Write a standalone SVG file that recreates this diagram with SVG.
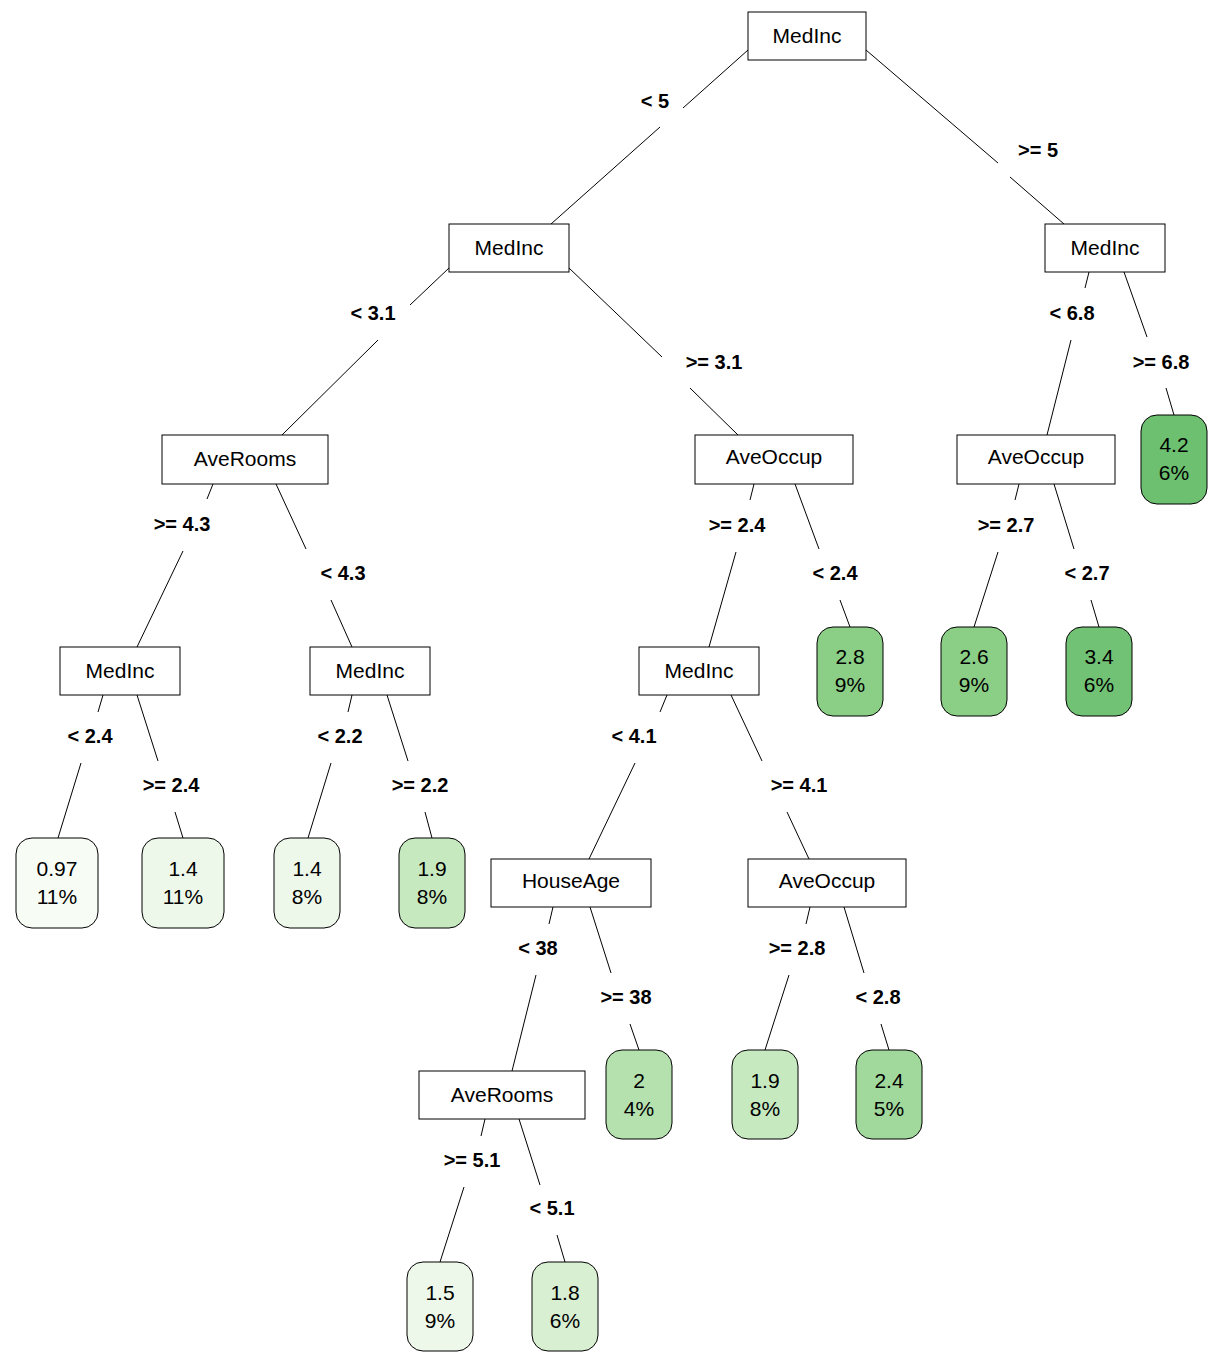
<svg xmlns="http://www.w3.org/2000/svg" width="1218" height="1358" viewBox="0 0 1218 1358">
<style>
.b{fill:#fff;stroke:#000;stroke-width:1}
.l{stroke:#000;stroke-width:1}
text{font-family:"Liberation Sans",Arial,sans-serif;font-size:21px;text-anchor:middle;dominant-baseline:middle}
.e{font-weight:bold;font-size:20px}
</style>
<rect width="1218" height="1358" fill="#fff"/>
<g id="connectors" fill="none" class="l">
<path class="l" d="M748,50L683,108M660,127L551,224M866,50L998,163M1010,177L1064,224M449,268L410,305M378,340L282,435M569,268L662,357M690,388L738,435M1089,272L1085,288M1071,340L1047,435M1124,272L1147,337M1166,388L1174,415M213,484L207,499M183,551L137,647M276,484L306,549M331,600L352,647M754,484L750,500M736,552L709,647M795,484L819,549M840,600L850,627M1019,484L1015,500M998,552L974,627M1054,484L1074,549M1091,600L1099,627M103,695L98,712M81,763L58,838M137,695L158,761M175,812L183,838M352,695L348,712M331,763L308,838M387,695L408,761M425,812L432,838M667,695L660,712M635,763L589,859M731,695L762,761M787,812L809,859M553,907L549,924M536,975L512,1071M590,907L611,973M630,1024L639,1050M810,907L806,924M789,975L765,1050M844,907L864,973M881,1024L889,1050M485,1119L481,1136M464,1187L440,1262M519,1119L540,1185M557,1235L565,1262"/>
<g fill="#000" stroke="none">
<text class="e" x="655" y="103">&lt; 5</text>
<text class="e" x="1038" y="152">&gt;= 5</text>
<text class="e" x="373" y="315">&lt; 3.1</text>
<text class="e" x="714" y="364">&gt;= 3.1</text>
<text class="e" x="1072" y="315">&lt; 6.8</text>
<text class="e" x="1161" y="364">&gt;= 6.8</text>
<text class="e" x="182" y="526">&gt;= 4.3</text>
<text class="e" x="343" y="575">&lt; 4.3</text>
<text class="e" x="737" y="527">&gt;= 2.4</text>
<text class="e" x="835" y="575">&lt; 2.4</text>
<text class="e" x="1006" y="527">&gt;= 2.7</text>
<text class="e" x="1087" y="575">&lt; 2.7</text>
<text class="e" x="90" y="738">&lt; 2.4</text>
<text class="e" x="171" y="787">&gt;= 2.4</text>
<text class="e" x="340" y="738">&lt; 2.2</text>
<text class="e" x="420" y="787">&gt;= 2.2</text>
<text class="e" x="634" y="738">&lt; 4.1</text>
<text class="e" x="799" y="787">&gt;= 4.1</text>
<text class="e" x="538" y="950">&lt; 38</text>
<text class="e" x="626" y="999">&gt;= 38</text>
<text class="e" x="797" y="950">&gt;= 2.8</text>
<text class="e" x="878" y="999">&lt; 2.8</text>
<text class="e" x="472" y="1162">&gt;= 5.1</text>
<text class="e" x="552" y="1210">&lt; 5.1</text>
</g>
</g>
<g id="n1"><rect class="b" x="748" y="12" width="118" height="48"/><text x="807" y="37">MedInc</text></g>
<g id="n2"><rect class="b" x="449" y="224" width="120" height="48"/><text x="509" y="249">MedInc</text></g>
<g id="n3"><rect class="b" x="1045" y="224" width="120" height="48"/><text x="1105" y="249">MedInc</text></g>
<g id="n4"><rect class="b" x="162" y="435" width="166" height="49"/><text x="245" y="460">AveRooms</text></g>
<g id="n5"><rect class="b" x="695" y="435" width="158" height="49"/><text x="774" y="458">AveOccup</text></g>
<g id="n6"><rect class="b" x="957" y="435" width="158" height="49"/><text x="1036" y="458">AveOccup</text></g>
<g id="n7"><rect class="b" x="60" y="647" width="120" height="48"/><text x="120" y="672">MedInc</text></g>
<g id="n8"><rect class="b" x="310" y="647" width="120" height="48"/><text x="370" y="672">MedInc</text></g>
<g id="n9"><rect class="b" x="639" y="647" width="120" height="48"/><text x="699" y="672">MedInc</text></g>
<g id="n10"><rect class="b" x="491" y="859" width="160" height="48"/><text x="571" y="882">HouseAge</text></g>
<g id="n11"><rect class="b" x="748" y="859" width="158" height="48"/><text x="827" y="882">AveOccup</text></g>
<g id="n12"><rect class="b" x="419" y="1071" width="166" height="48"/><text x="502" y="1096">AveRooms</text></g>
<g id="leaf42"><rect class="b" x="1141" y="415" width="66" height="89" rx="16" style="fill:#6cc070"/><text x="1174" y="446">4.2</text><text x="1174" y="474">6%</text></g>
<g id="leaf28"><rect class="b" x="817" y="627" width="66" height="89" rx="16" style="fill:#8bce86"/><text x="850" y="658">2.8</text><text x="850" y="686">9%</text></g>
<g id="leaf26"><rect class="b" x="941" y="627" width="66" height="89" rx="16" style="fill:#8bce86"/><text x="974" y="658">2.6</text><text x="974" y="686">9%</text></g>
<g id="leaf34"><rect class="b" x="1066" y="627" width="66" height="89" rx="16" style="fill:#72c275"/><text x="1099" y="658">3.4</text><text x="1099" y="686">6%</text></g>
<g id="leaf097"><rect class="b" x="16" y="838" width="82" height="90" rx="16" style="fill:#f7fcf5"/><text x="57" y="870">0.97</text><text x="57" y="898">11%</text></g>
<g id="leaf14a"><rect class="b" x="142" y="838" width="82" height="90" rx="16" style="fill:#edf8ea"/><text x="183" y="870">1.4</text><text x="183" y="898">11%</text></g>
<g id="leaf14b"><rect class="b" x="274" y="838" width="66" height="90" rx="16" style="fill:#edf8ea"/><text x="307" y="870">1.4</text><text x="307" y="898">8%</text></g>
<g id="leaf19a"><rect class="b" x="399" y="838" width="66" height="90" rx="16" style="fill:#c7e9c0"/><text x="432" y="870">1.9</text><text x="432" y="898">8%</text></g>
<g id="leaf2"><rect class="b" x="606" y="1050" width="66" height="89" rx="16" style="fill:#b5e1ae"/><text x="639" y="1082">2</text><text x="639" y="1110">4%</text></g>
<g id="leaf19b"><rect class="b" x="732" y="1050" width="66" height="89" rx="16" style="fill:#c7e9c0"/><text x="765" y="1082">1.9</text><text x="765" y="1110">8%</text></g>
<g id="leaf24"><rect class="b" x="856" y="1050" width="66" height="89" rx="16" style="fill:#a0d99b"/><text x="889" y="1082">2.4</text><text x="889" y="1110">5%</text></g>
<g id="leaf15"><rect class="b" x="407" y="1262" width="66" height="89" rx="16" style="fill:#eef8ea"/><text x="440" y="1294">1.5</text><text x="440" y="1322">9%</text></g>
<g id="leaf18"><rect class="b" x="532" y="1262" width="66" height="89" rx="16" style="fill:#d8efd2"/><text x="565" y="1294">1.8</text><text x="565" y="1322">6%</text></g>
</svg>
